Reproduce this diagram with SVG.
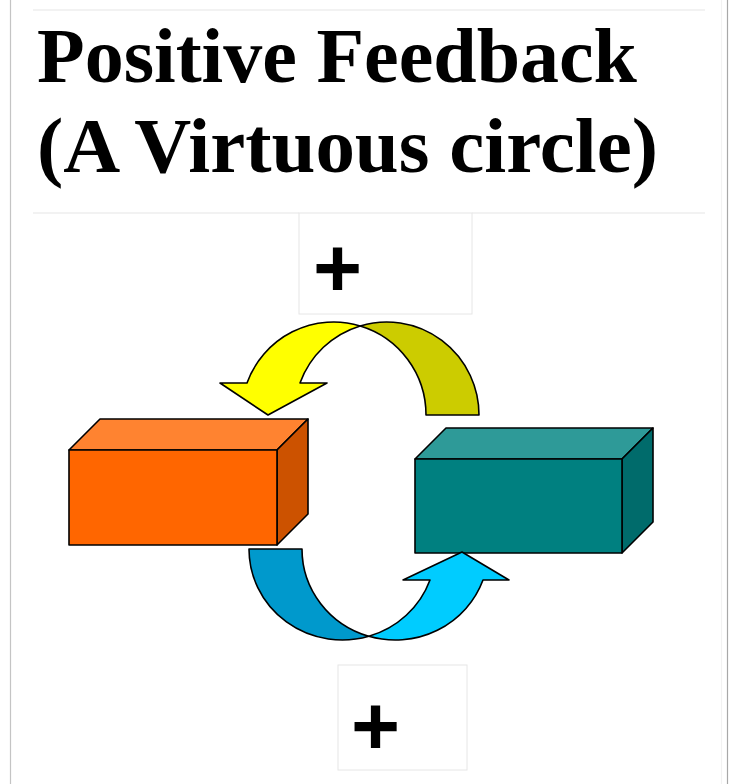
<svg xmlns="http://www.w3.org/2000/svg" width="747" height="784" viewBox="0 0 747 784">
<style>
.frame{stroke:#c4c4c4;stroke-width:1.2;fill:none}
.rule{stroke:#e6e6e6;stroke-width:1.2;fill:none}
.box{fill:#ffffff;stroke:#e6e6e6;stroke-width:1}
.title{font-family:"Liberation Serif","Times New Roman",serif;font-weight:bold;font-size:78px;fill:#000}
.plus{font-family:"Liberation Sans",Arial,sans-serif;font-weight:bold;font-size:84px;fill:#000}
.edge{stroke:#000;stroke-width:1.6;stroke-linejoin:round}
</style>
<rect x="0" y="0" width="747" height="784" fill="#ffffff"/>
<g id="frame">
<line class="frame" x1="10.5" y1="0" x2="10.5" y2="784"/>
<line class="frame" x1="727.5" y1="0" x2="727.5" y2="784" style="stroke:#a8a8a8"/>
<line class="rule" x1="721.5" y1="0" x2="721.5" y2="784" style="stroke:#f2f2f2"/>
<line class="rule" x1="33" y1="10" x2="705" y2="10"/>
<line class="rule" x1="33" y1="213" x2="299" y2="213"/>
<line class="rule" x1="472" y1="213" x2="705" y2="213"/>
</g>
<g id="title">
<text class="title" x="37" y="82" textLength="600" lengthAdjust="spacingAndGlyphs">Positive Feedback</text>
<text class="title" x="37" y="172" textLength="621" lengthAdjust="spacingAndGlyphs">(A Virtuous circle)</text>
</g>
<g id="plus-top">
<rect class="box" x="299" y="213" width="173" height="101"/>
<text class="plus" x="313" y="297">+</text>
</g>
<g id="plus-bottom">
<rect class="box" x="338" y="665" width="129" height="105"/>
<text class="plus" x="351" y="755">+</text>
</g>
<g id="box-orange">
<polygon class="edge" points="69,450 100,419 308,419 277,450" fill="#ff8330"/>
<polygon class="edge" points="277,450 308,419 308,514 277,545" fill="#cc5200"/>
<rect class="edge" x="69" y="450" width="208" height="95" fill="#ff6600"/>
</g>
<g id="box-teal">
<polygon class="edge" points="415,459 446,428 653,428 622,459" fill="#2e9a98"/>
<polygon class="edge" points="622,459 653,428 653,522 622,553" fill="#006b6b"/>
<rect class="edge" x="415" y="459" width="207" height="94" fill="#008080"/>
</g>
<g id="connectors">
<path class="edge" fill="#cccc00" d="M479,415 A92.3,93 0 0 0 360.2,325.9 A92.3,93 0 0 1 426,415 Z"/>
<path class="edge" fill="#ffff00" d="M300,383 A92.3,93 0 0 1 360.2,325.9 A92.3,93 0 0 0 247,383 L220,383 L268,415 L327,383 Z"/>
<path class="edge" fill="#0099cc" d="M249,549 A93.3,91 0 0 0 368.8,636.3 A93.3,91 0 0 1 302,549 Z"/>
<path class="edge" fill="#00ccff" d="M430,580 A93.3,91 0 0 1 368.8,636.3 A93.3,91 0 0 0 483,580 L509,580 L462,552 L403,580 Z"/>
</g>
</svg>
